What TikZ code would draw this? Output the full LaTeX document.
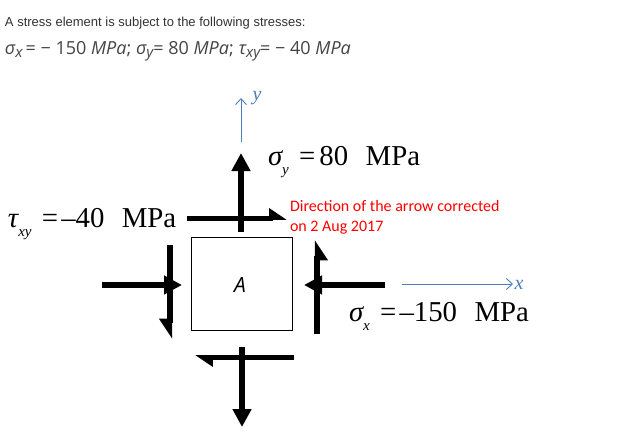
\documentclass[tikz,border=0pt]{standalone}
\usepackage{fontspec}
\setmainfont{Liberation Serif}
\newfontfamily\headfont{Liberation Sans}
\newfontfamily\eqfont{Open Sans}
\newfontfamily\notefont{Carlito}
\usetikzlibrary{arrows.meta}
\definecolor{axisblue}{HTML}{4A7EBB}
\definecolor{headgrey}{HTML}{333333}
\definecolor{eqgrey}{HTML}{444444}
\definecolor{notered}{HTML}{FF0000}
\tikzset{
  lab/.style={inner sep=0pt,outer sep=0pt,anchor=base west},
  headtext/.style={lab,font=\headfont\fontsize{13}{15}\selectfont,text=headgrey},
  eqtext/.style={lab,font=\eqfont\fontsize{18}{20}\selectfont,text=eqgrey},
  stresstext/.style={lab,font=\fontsize{28.8}{31}\selectfont,text=black},
  notetext/.style={lab,font=\notefont\fontsize{16}{18}\selectfont,text=notered},
  axislab/.style={inner sep=0pt,outer sep=0pt,font=\itshape\fontsize{20}{22}\selectfont,text=axisblue},
  axisline/.style={draw=axisblue,line width=1pt,-{Straight Barb[length=6pt,width=11pt,line width=0.9pt]}},
  normalarrow/.style={draw=black,line width=6pt,-{Triangle[length=18pt,width=18pt]}},
  sheararrowL/.style={draw=black,line width=5pt,-{Triangle[left,length=15pt,width=19pt]}},
  sheararrowR/.style={draw=black,line width=6pt,-{Triangle[right,length=17pt,width=21pt]}},
  elementbox/.style={draw=black,line width=1pt,minimum width=101pt,minimum height=93pt,inner sep=0pt,outer sep=0pt}
}
\newcommand{\sbs}[1]{\raisebox{-9pt}{\fontsize{15}{15}\selectfont\itshape #1}\hspace{3pt}}
\newcommand{\eqs}[1]{\raisebox{-3.5pt}{\fontsize{15}{15}\selectfont #1}}
\begin{document}
\begin{tikzpicture}[x=1pt,y=-1pt]
\useasboundingbox (0,0) rectangle (634,442);
\fill[white] (0,0) rectangle (634,442);
\node[headtext] (head) at (5,26) {A stress element is subject to the following stresses:};
\node[eqtext] (eq) at (5,54) {\itshape σ\eqs{x}\,\upshape= − 150 \itshape MPa\upshape; \itshape σ\eqs{y}\upshape= 80 \itshape MPa\upshape; \itshape τ\eqs{xy}\upshape= − 40 \itshape MPa};

\node[elementbox] (box) at (242,283.5) {};
\node[font=\eqfont\itshape\fontsize{21}{23}\selectfont,inner sep=0pt] (A) at (240,285) {A};

% blue axes
\coordinate (ys) at (241,142);
\coordinate (ye) at (241,98);
\coordinate (xs) at (402,284);
\coordinate (xe) at (513,284);
\draw[axisline] (ys) -- (ye);
\draw[axisline] (xs) -- (xe);
\node[axislab] (ylab) at (257,98) {y};
\node[axislab] (xlab) at (519,285) {x};

% normal stress arrows
\coordinate (ts) at (241,232); \coordinate (te) at (241,153);
\coordinate (bs) at (242,347); \coordinate (be) at (242,427);
\coordinate (ls) at (102,285); \coordinate (le) at (182,285);
\coordinate (rs) at (385,285); \coordinate (re) at (304,285);
\draw[normalarrow] (ts) -- (te);
\draw[normalarrow] (bs) -- (be);
\draw[normalarrow] (ls) -- (le);
\draw[normalarrow] (rs) -- (re);

% shear arrows
\coordinate (sts) at (187,218); \coordinate (ste) at (287,218);
\coordinate (sbs) at (294,357); \coordinate (sbe) at (195,357);
\coordinate (sls) at (170,245); \coordinate (sle) at (170,339);
\coordinate (srs) at (317,334); \coordinate (sre) at (317,240);
\draw[sheararrowL] (sts) -- (ste);
\draw[sheararrowL] (sbs) -- (sbe);
\draw[sheararrowR] (sls) -- (sle);
\draw[sheararrowR] (srs) -- (sre);

% labels
\node[stresstext] (sy) at (268,165) {{\itshape σ}\sbs{y} =\hspace{-3pt} 80\hspace{3pt}\ \ MPa};
\node[stresstext] (txy) at (8,227) {{\itshape τ}\sbs{xy} =\hspace{-4pt} –40\hspace{3pt}\ \ MPa};
\node[stresstext] (sx) at (349,321) {{\itshape σ}\sbs{x} =\hspace{-4pt} –150\hspace{3pt}\ \ MPa};
\node[notetext] (n1) at (290,211) {Direction of the arrow corrected};
\node[notetext] (n2) at (290,231) {on 2 Aug 2017};
\end{tikzpicture}
\end{document}
